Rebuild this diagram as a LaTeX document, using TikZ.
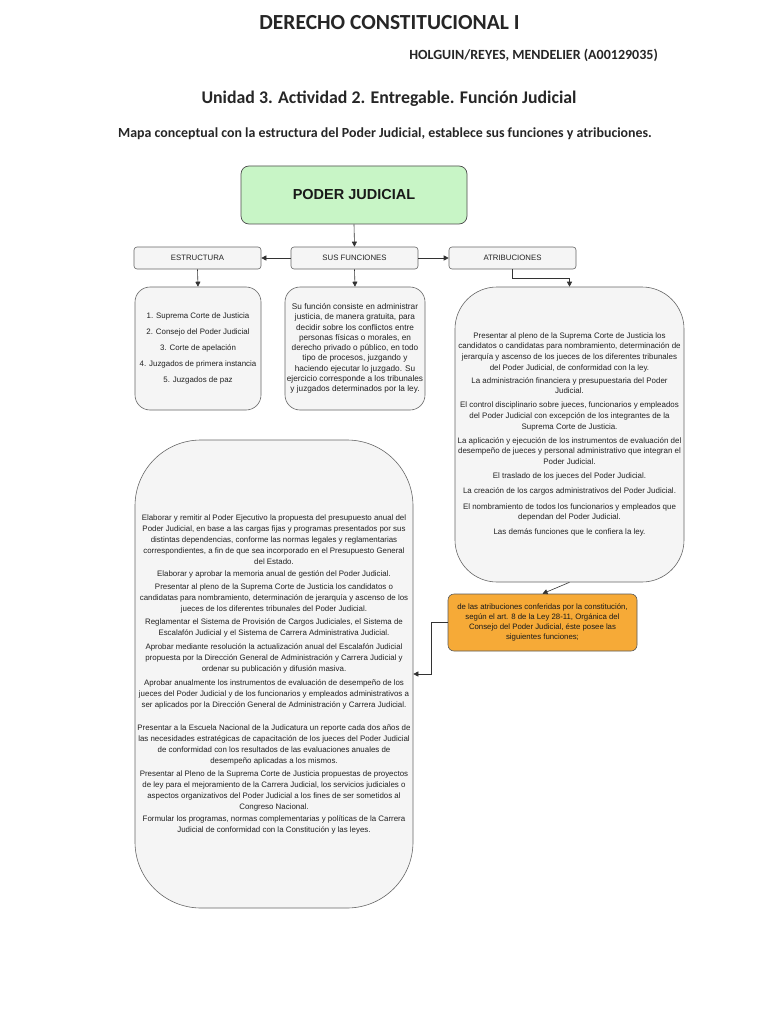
\documentclass[tikz,border=0pt]{standalone}
\usepackage{fontspec}
\setmainfont{Carlito}
\newfontfamily\arialf{Liberation Sans}
\usetikzlibrary{arrows.meta,calc}
\definecolor{boxgray}{HTML}{F5F5F5}
\definecolor{boxline}{HTML}{666666}
\definecolor{greenfill}{HTML}{C8F5C6}
\definecolor{orangefill}{HTML}{F6AA37}
\definecolor{txt}{HTML}{222222}
\begin{document}
\begin{tikzpicture}[x=1pt,y=-1pt,
  lbl/.style={draw=boxline,fill=boxgray,line width=0.6pt,rounded corners=3pt,
    minimum width=127pt,minimum height=22pt,inner sep=0pt,
    font={\arialf\fontsize{7.8}{9}\selectfont},text=txt},
  bubble/.style={draw=boxline,fill=boxgray,line width=0.6pt,inner sep=0pt,align=center,text=txt},
  arr/.style={draw=black!80,line width=0.6pt,-{Triangle[length=5pt,width=5pt]}},
  hdr/.style={inner sep=0pt,anchor=base}]
\useasboundingbox (0,0) rectangle (768,1024);
\fill[white] (0,0) rectangle (768,1024);

% header
\node[hdr,font={\bfseries\fontsize{21.5}{25}\selectfont},text=black!85] (title) at (389.5,30) {DERECHO CONSTITUCIONAL I};
\node[hdr,anchor=base east,font={\bfseries\fontsize{14}{17}\selectfont},text=black!85] (author) at (658,60) {HOLGUIN/REYES, MENDELIER (A00129035)};
\node[hdr,font={\bfseries\fontsize{17.8}{21}\selectfont},text=black!85] (unidad) at (389,104) {Unidad 3. Actividad 2. Entregable. Función Judicial};
\node[hdr,font={\bfseries\fontsize{13.9}{16}\selectfont},text=black!85] (mapa) at (385,138) {Mapa conceptual con la estructura del Poder Judicial, establece sus funciones y atribuciones.};

% main node
\node[draw=black!70,fill=greenfill,line width=0.7pt,rounded corners=8pt,
  minimum width=226pt,minimum height=58pt,inner sep=0pt,
  font={\arialf\bfseries\fontsize{14.5}{17}\selectfont},text=black!90] (poder) at (354,195) {PODER JUDICIAL};

% second row
\node[lbl] (estr) at (197.5,258) {ESTRUCTURA};
\node[lbl] (func) at (354.5,258) {SUS FUNCIONES};
\node[lbl] (atr) at (512.5,258) {ATRIBUCIONES};

% detail boxes
\node[bubble,rounded corners=15pt,minimum width=126pt,minimum height=123pt,
  font={\arialf\fontsize{7.9}{16}\selectfont}] (estrbox) at (198,348.5)
  {1. Suprema Corte de Justicia\\2. Consejo del Poder Judicial\\3. Corte de apelación\\4. Juzgados de primera instancia\\5. Juzgados de paz};

\node[bubble,rounded corners=15pt,minimum width=140pt,minimum height=123pt,
  font={\arialf\fontsize{8.25}{10.3}\selectfont}] (funcbox) at (355,348.5)
  {Su función consiste en administrar\\justicia, de manera gratuita, para\\decidir sobre los conflictos entre\\personas físicas o morales, en\\derecho privado o público, en todo\\tipo de procesos, juzgando y\\haciendo ejecutar lo juzgado. Su\\ejercicio corresponde a los tribunales\\y juzgados determinados por la ley.};

\node[bubble,rounded corners=42pt,minimum width=229pt,minimum height=295pt,
  font={\arialf\fontsize{7.95}{10.6}\selectfont}] (atrbox) at (569.5,434.5)
  {Presentar al pleno de la Suprema Corte de Justicia los\\candidatos o candidatas para nombramiento, determinación de\\jerarquía y ascenso de los jueces de los diferentes tribunales\\del Poder Judicial, de conformidad con la ley.\\[2.5pt]
   La administración financiera y presupuestaria del Poder\\Judicial.\\[3.5pt]
   El control disciplinario sobre jueces, funcionarios y empleados\\del Poder Judicial con excepción de los integrantes de la\\Suprema Corte de Justicia.\\[3.5pt]
   La aplicación y ejecución de los instrumentos de evaluación del\\desempeño de jueces y personal administrativo que integran el\\Poder Judicial.\\[3.5pt]
   El traslado de los jueces del Poder Judicial.\\[4.5pt]
   La creación de los cargos administrativos del Poder Judicial.\\[5pt]
   El nombramiento de todos los funcionarios y empleados que\\dependan del Poder Judicial.\\[4.5pt]
   Las demás funciones que le confiera la ley.};

\node[draw=black!65,fill=orangefill,line width=0.6pt,rounded corners=6pt,
  minimum width=189pt,minimum height=57pt,inner sep=0pt,align=center,
  font={\arialf\fontsize{7.8}{10}\selectfont},text=black!90] (orange) at (542.5,622.5)
  {de las atribuciones conferidas por la constitución,\\según el art. 8 de la Ley 28-11, Orgánica del\\Consejo del Poder Judicial, éste posee las\\siguientes funciones;};

\node[bubble,rounded corners=66pt,minimum width=278pt,minimum height=468pt,
  font={\arialf\fontsize{7.9}{11}\selectfont}] (bigbox) at (274,674)
  {Elaborar y remitir al Poder Ejecutivo la propuesta del presupuesto anual del\\Poder Judicial, en base a las cargas fijas y programas presentados por sus\\distintas dependencias, conforme las normas legales y reglamentarias\\correspondientes, a fin de que sea incorporado en el Presupuesto General\\del Estado.\\[1pt]
   Elaborar y aprobar la memoria anual de gestión del Poder Judicial.\\[2pt]
   Presentar al pleno de la Suprema Corte de Justicia los candidatos o\\candidatas para nombramiento, determinación de jerarquía y ascenso de los\\jueces de los diferentes tribunales del Poder Judicial.\\[2pt]
   Reglamentar el Sistema de Provisión de Cargos Judiciales, el Sistema de\\Escalafón Judicial y el Sistema de Carrera Administrativa Judicial.\\[3pt]
   Aprobar mediante resolución la actualización anual del Escalafón Judicial\\propuesta por la Dirección General de Administración y Carrera Judicial y\\ordenar su publicación y difusión masiva.\\[3pt]
   Aprobar anualmente los instrumentos de evaluación de desempeño de los\\jueces del Poder Judicial y de los funcionarios y empleados administrativos a\\ser aplicados por la Dirección General de Administración y Carrera Judicial.\\[12pt]
   Presentar a la Escuela Nacional de la Judicatura un reporte cada dos años de\\las necesidades estratégicas de capacitación de los jueces del Poder Judicial\\de conformidad con los resultados de las evaluaciones anuales de\\desempeño aplicadas a los mismos.\\[2pt]
   Presentar al Pleno de la Suprema Corte de Justicia propuestas de proyectos\\de ley para el mejoramiento de la Carrera Judicial, los servicios judiciales o\\aspectos organizativos del Poder Judicial a los fines de ser sometidos al\\Congreso Nacional.\\[1pt]
   Formular los programas, normas complementarias y políticas de la Carrera\\Judicial de conformidad con la Constitución y las leyes.};

% connectors
\draw[arr] (poder.south) -- (func.north);
\draw[arr] (func.west) -- (estr.east);
\draw[arr] (func.east) -- (atr.west);
\draw[arr] (estr.south) -- (estrbox.north);
\draw[arr] (func.south) -- (funcbox.north);
\draw[arr] (atr.south) -- ++(0,8.5) -| (atrbox.north);
\draw[arr] (atrbox.south) -- (orange.north);
\draw[arr] (orange.west) -- ++(-16,0) |- (bigbox.east);
\end{tikzpicture}
\end{document}
